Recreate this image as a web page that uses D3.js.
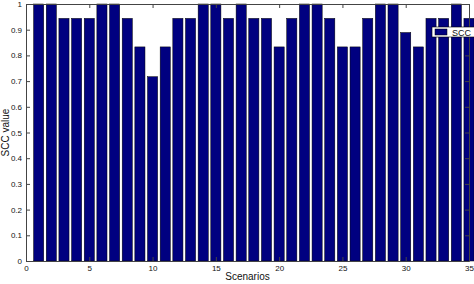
<!DOCTYPE html>
<html>
<head>
<meta charset="utf-8">
<script src="https://cdn.jsdelivr.net/npm/d3@7"></script>
<style>
  body { margin: 0; background: #fff; }
  text { font-family: "Liberation Sans", Arial, sans-serif; fill: #111; }
</style>
</head>
<body>
<script>
// scenario numbers and SCC values
var scenarios = [1,2,3,4,5,6,7,8,9,10,11,12,13,14,15,16,17,18,19,20,21,22,23,24,25,26,27,28,29,30,31,32,33,34,35];
var sccValues = [1, 1, 0.944, 0.944, 0.944, 1, 1, 0.944, 0.833, 0.717,
                 0.833, 0.944, 0.944, 1, 1, 0.944, 1, 0.944, 0.944, 0.833,
                 0.944, 1, 1, 0.944, 0.833, 0.833, 0.944, 1, 1, 0.889,
                 0.833, 0.944, 0.944, 1, 0.944];
var xTicks = [0,5,10,15,20,25,30,35];
var yTicks = [0,0.1,0.2,0.3,0.4,0.5,0.6,0.7,0.8,0.9,1];
var seriesName = "SCC";

var width = 474, height = 284;
var margin = {top: 4, right: 5, bottom: 23, left: 26};

var svg = d3.select("body").append("svg")
    .attr("width", width)
    .attr("height", height);

var x = d3.scaleLinear().domain([0, 35]).range([margin.left, width - margin.right]);
var y = d3.scaleLinear().domain([0, 1]).range([height - margin.bottom, margin.top]);

var barW = (x(1) - x(0)) * 0.8;

// bars
svg.append("g").selectAll("rect")
    .data(scenarios)
  .enter().append("rect")
    .attr("x", function(d) { return x(d) - barW / 2; })
    .attr("y", function(d, i) { return y(sccValues[i]); })
    .attr("width", barW)
    .attr("height", function(d, i) { return y(0) - y(sccValues[i]); })
    .style("fill", "#000080")
    .style("stroke", "#000")
    .style("stroke-width", 0.5);

// axes, matlab style with ticks inside on all four sides
var tl = 4;
var xb = d3.axisBottom(x).tickValues(xTicks).tickSizeInner(-tl).tickSizeOuter(0).tickPadding(4);
var xt = d3.axisTop(x).tickValues(xTicks).tickSizeInner(-tl).tickSizeOuter(0).tickFormat("");
var yl = d3.axisLeft(y).tickValues(yTicks).tickSizeInner(-tl).tickSizeOuter(0).tickPadding(4)
    .tickFormat(function(d) { return d === 0 || d === 1 ? d : d3.format(".1f")(d); });
var yr = d3.axisRight(y).tickValues(yTicks).tickSizeInner(-tl).tickSizeOuter(0).tickFormat("");

svg.append("g").attr("class", "axis").attr("transform", "translate(0," + y(0) + ")").call(xb);
svg.append("g").attr("class", "axis").attr("transform", "translate(0," + y(1) + ")").call(xt);
svg.append("g").attr("class", "axis").attr("transform", "translate(" + x(0) + ",0)").call(yl);
svg.append("g").attr("class", "axis").attr("transform", "translate(" + x(35) + ",0)").call(yr);

svg.selectAll(".axis path").style("stroke", "#444");
svg.selectAll(".axis line").style("stroke", "#444");
svg.selectAll(".axis text").style("font-size", "8px").style("font-family", "Liberation Sans, Arial, sans-serif").style("fill", "#111");

// axis labels
svg.append("text")
  .attr("x", (x(0) + x(35)) / 2)
  .attr("y", 280)
  .attr("text-anchor", "middle")
  .style("font-size", "10px")
  .text("Scenarios");

svg.append("text")
  .attr("transform", "translate(9," + ((y(0) + y(1)) / 2) + ") rotate(-90)")
  .attr("text-anchor", "middle")
  .style("font-size", "10px")
  .text("SCC value");

// legend
var lg = svg.append("g").attr("transform", "translate(432,27)");
lg.append("rect")
  .attr("width", 44).attr("height", 10)
  .style("fill", "#fff").style("stroke", "#000").style("stroke-width", 0.6);
lg.append("rect")
  .attr("x", 3).attr("y", 2).attr("width", 12).attr("height", 6)
  .style("fill", "#000080").style("stroke", "#000").style("stroke-width", 0.5);
lg.append("text")
  .attr("x", 20).attr("y", 8.5)
  .style("font-size", "9px")
  .text(seriesName);
</script>
</body>
</html>
